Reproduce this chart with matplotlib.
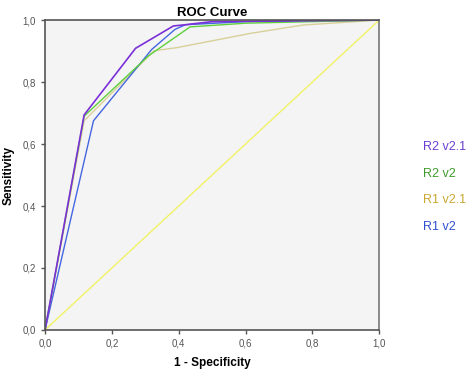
"""ROC curves for four rater/version combinations."""
import matplotlib.pyplot as plt
from matplotlib.ticker import FuncFormatter

plt.rcParams["font.family"] = ["Liberation Sans", "DejaVu Sans"]

# curve points (1 - specificity, sensitivity)
r2_v21_x = [0.0, 0.117, 0.271, 0.384, 0.42, 0.5, 1.0]
r2_v21_y = [0.0, 0.694, 0.909, 0.981, 0.985, 0.995, 1.0]
r2_v2_x = [0.0, 0.117, 0.31, 0.434, 0.6, 1.0]
r2_v2_y = [0.0, 0.690, 0.885, 0.978, 0.99, 1.0]
r1_v21_x = [0.0, 0.117, 0.326, 0.394, 0.614, 0.772, 1.0]
r1_v21_y = [0.0, 0.675, 0.901, 0.911, 0.957, 0.984, 1.0]
r1_v2_x = [0.0, 0.145, 0.319, 0.389, 0.42, 0.6, 1.0]
r1_v2_y = [0.0, 0.675, 0.905, 0.970, 0.985, 0.995, 1.0]
ref_x = [0.0, 1.0]
ref_y = [0.0, 1.0]

LABELS = ["R2 v2.1", "R2 v2", "R1 v2.1", "R1 v2"]
LINE_COLORS = ["#7a2fd8", "#5fd03c", "#d8d09a", "#4466e0"]
TEXT_COLORS = ["#6a3fd0", "#3f9a2c", "#c8a830", "#3050d0"]

fig = plt.figure(figsize=(4.74, 3.72), dpi=100)
ax = fig.add_axes([0.095, 0.113, 0.705, 0.833])
ax.set_facecolor("#f4f4f4")

ax.plot(ref_x, ref_y, color="#f2f266", lw=1)
ax.plot(r1_v21_x, r1_v21_y, color=LINE_COLORS[2], lw=1)
ax.plot(r1_v2_x, r1_v2_y, color=LINE_COLORS[3], lw=1)
ax.plot(r2_v2_x, r2_v2_y, color=LINE_COLORS[1], lw=1)
ax.plot(r2_v21_x, r2_v21_y, color=LINE_COLORS[0], lw=1.2)

ax.set_xlim(0, 1)
ax.set_ylim(0, 1)
ticks = [0, 0.2, 0.4, 0.6, 0.8, 1.0]
ax.set_xticks(ticks)
ax.set_yticks(ticks)
fmt = FuncFormatter(lambda v, _: f"{v:.1f}".replace(".", ","))
ax.xaxis.set_major_formatter(fmt)
ax.yaxis.set_major_formatter(fmt)
ax.tick_params(labelsize=7, colors="#555555", length=3, width=1)

for side in ["left", "bottom", "top"]:
    ax.spines[side].set_color("#555555")
    ax.spines[side].set_linewidth(1.2)
ax.spines["right"].set_color("#777777")
ax.spines["right"].set_linewidth(1.2)

ax.set_xlabel("1 - Specificity", fontsize=8.5, fontweight="bold", labelpad=6)
ax.set_ylabel("Sensitivity", fontsize=8.5, fontweight="bold", labelpad=6)
ax.set_title("ROC Curve", fontsize=9.5, fontweight="bold", pad=3)

for i, (lab, col) in enumerate(zip(LABELS, TEXT_COLORS)):
    fig.text(423 / 474, 1 - (147 + i * 26.7) / 372, lab, color=col,
             fontsize=9, va="center", ha="left")

fig.savefig("out.png")
